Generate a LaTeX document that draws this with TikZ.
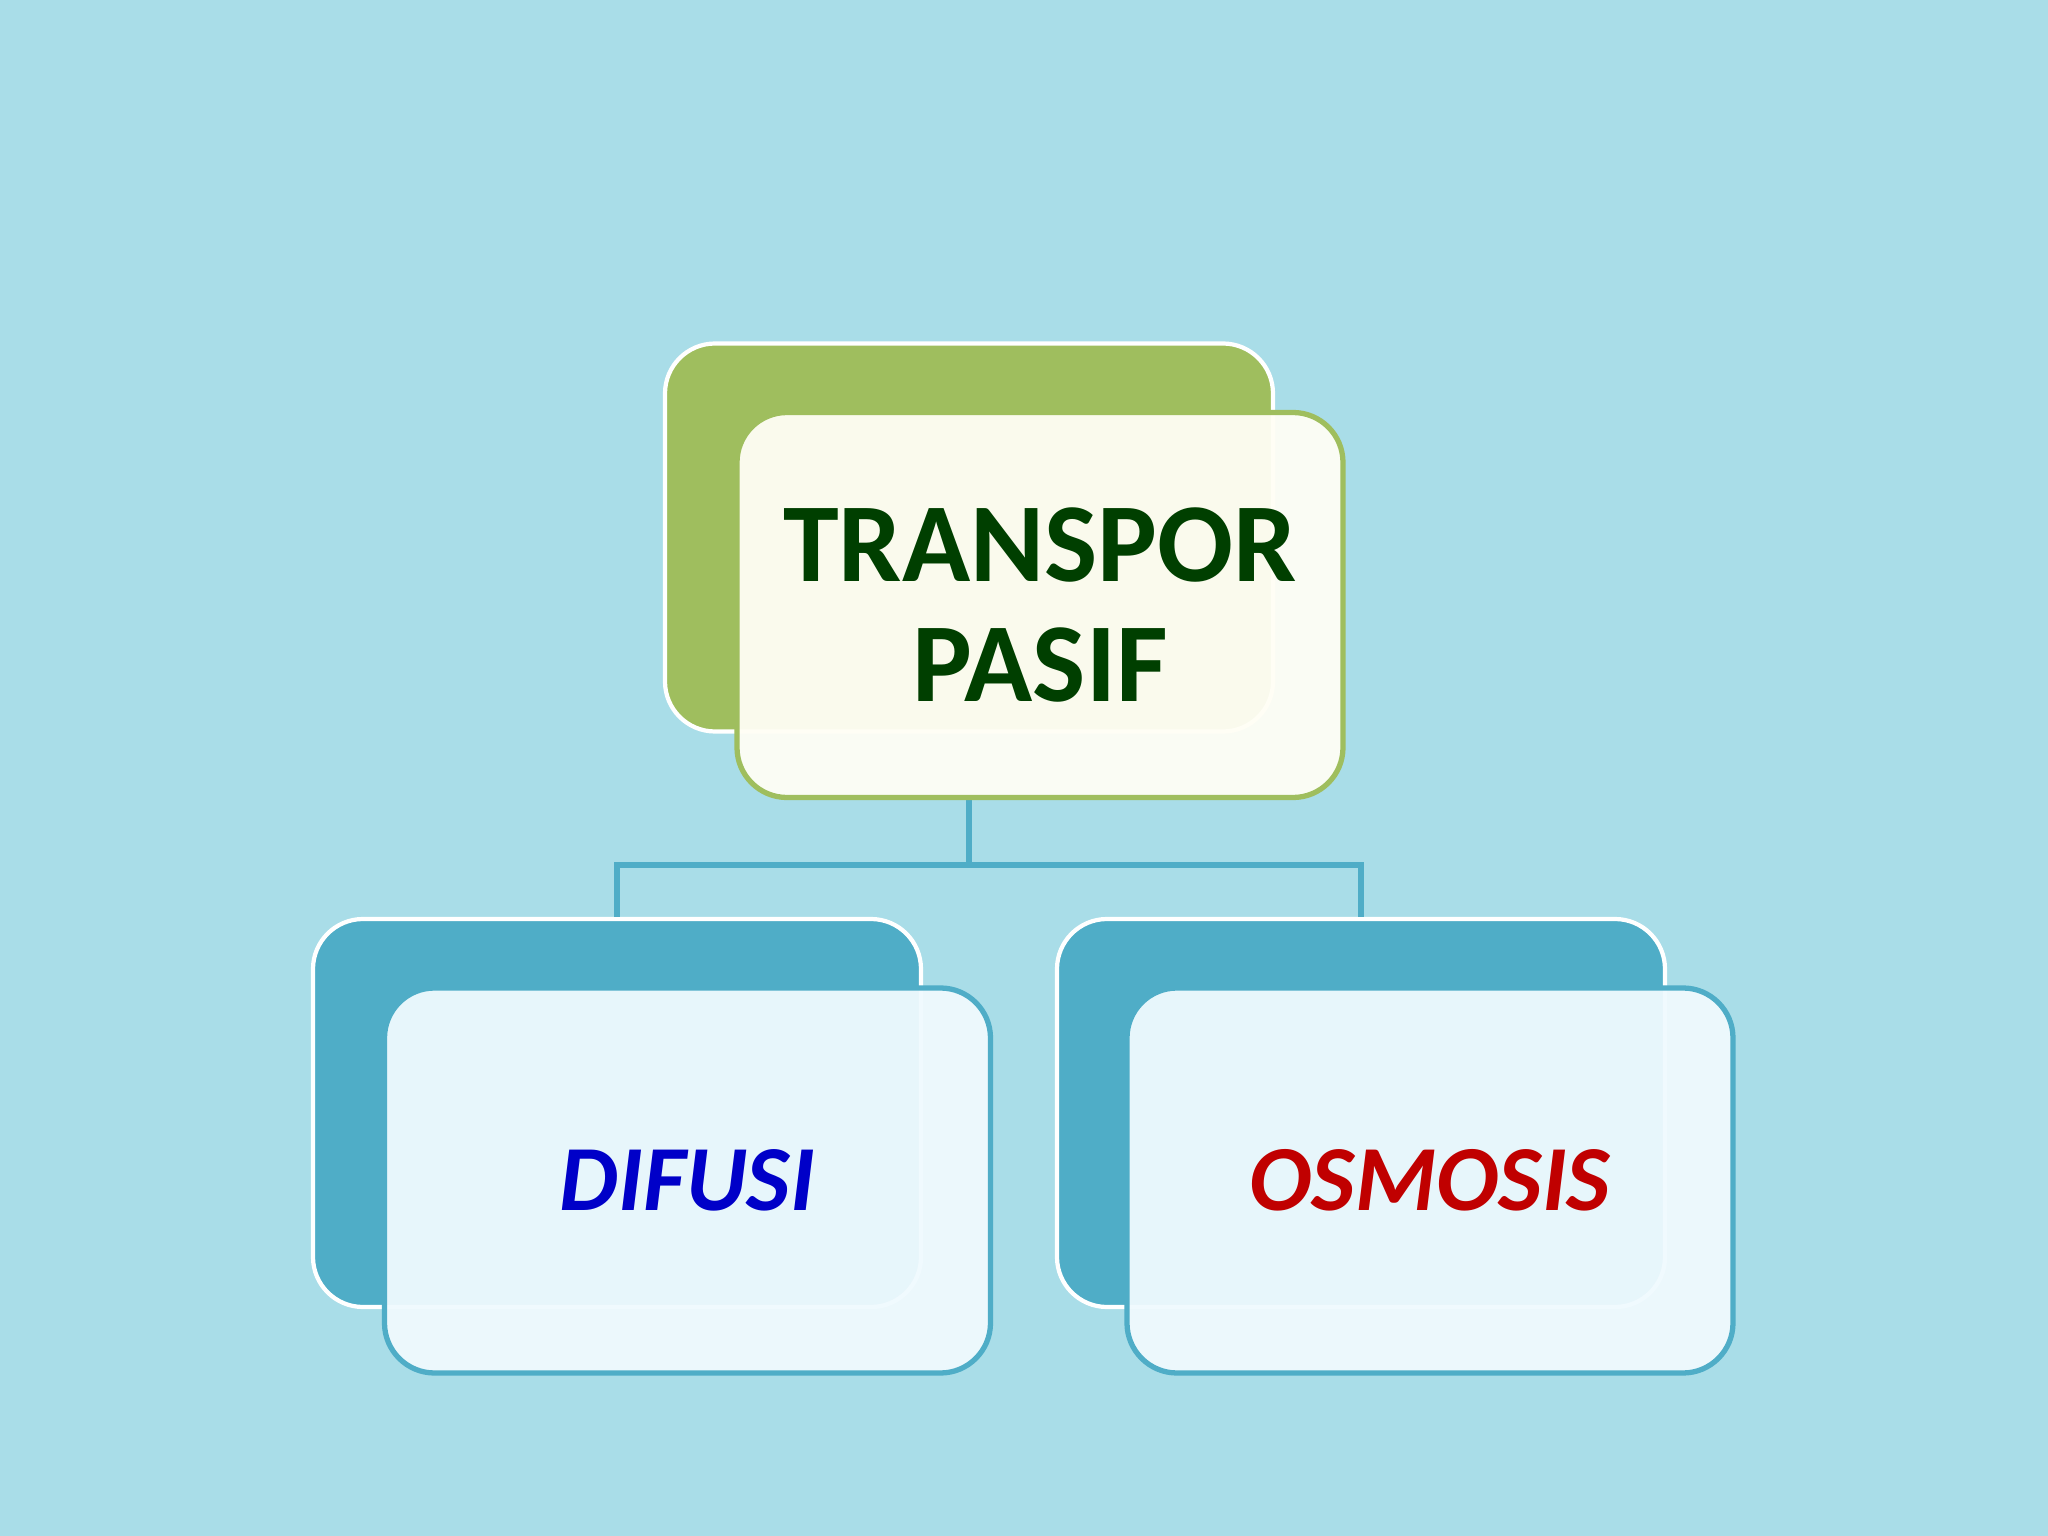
\documentclass[tikz,border=0pt]{standalone}
\usepackage{fontspec}
\setmainfont{Carlito}
\definecolor{water}{HTML}{A9DDE8}
\definecolor{leaf}{HTML}{9FBE5E}
\definecolor{sea}{HTML}{4FADC7}
\definecolor{darkleaf}{HTML}{003F00}
\definecolor{ink}{HTML}{0000C8}
\definecolor{rust}{HTML}{C00000}
\tikzset{
    backbox/.style = {rectangle, rounded corners = 0.5cm, draw = white, line width = 1.2pt,
        minimum width = 6.08cm, minimum height = 3.88cm, inner sep = 0pt},
    frontbox/.style = {rectangle, rounded corners = 0.5cm, line width = 1.5pt,
        minimum width = 6.06cm, minimum height = 3.85cm, inner sep = 0pt,
        fill opacity = 0.95, text opacity = 1, align = center},
    link/.style = {sea, line width = 1.8pt}
}
\begin{document}
\begin{tikzpicture}
                \fill [water] (0, 0) rectangle (20.48, -15.36);
                \useasboundingbox (0, 0) rectangle (20.48, -15.36);

                \node [backbox, fill = leaf] (topback) at (9.69, -5.375) {};
                \node [backbox, fill = sea] (leftback) at (6.17, -11.13) {};
                \node [backbox, fill = sea] (rightback) at (13.61, -11.13) {};

                \draw [link] (topback.south |- 0, -7.97) -- (topback.south |- 0, -8.65) -| (leftback.north);
                \draw [link] (topback.south |- 0, -8.65) -| (rightback.north);

                \node [frontbox, draw = leaf, fill = white!96!yellow, text = darkleaf,
                    font = \fontsize{32}{34}\selectfont\bfseries] (top) at (10.40, -6.05)
                    {\raisebox{0.07cm}{\parbox{6cm}{\centering TRANSPOR\\PASIF}}};
                \node [frontbox, draw = sea, fill = white!94!cyan, text = ink,
                    font = \fontsize{26.5}{30}\selectfont\bfseries\itshape] (left) at (6.875, -11.805)
                    {DIFUSI};
                \node [frontbox, draw = sea, fill = white!94!cyan, text = rust,
                    font = \fontsize{26.5}{30}\selectfont\bfseries\itshape] (right) at (14.30, -11.805)
                    {OSMOSIS};
            \end{tikzpicture}
\end{document}
